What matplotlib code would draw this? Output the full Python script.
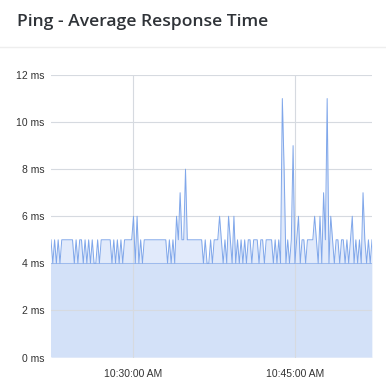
import matplotlib
matplotlib.use("Agg")
import matplotlib.pyplot as plt
import matplotlib.dates as mdates
from matplotlib.lines import Line2D
import numpy as np
import pandas as pd

# ---- data ----
title = "Ping - Average Response Time"
start_time = "2024-01-01 10:22:20"
interval = "10s"
response_ms = [
    5, 4, 5, 4, 5, 4, 5, 5, 5, 5,
    5, 5, 5, 4, 5, 4, 5, 5, 4, 5,
    4, 5, 4, 5, 4, 4, 5, 4, 5, 5,
    5, 5, 5, 5, 4, 5, 4, 5, 4, 5,
    4, 5, 5, 5, 5, 5, 6, 4, 6, 4,
    5, 4, 5, 5, 5, 5, 5, 5, 5, 5,
    5, 5, 5, 5, 5, 4, 5, 4, 5, 4,
    6, 5, 7, 5, 5, 8, 5, 5, 5, 5,
    5, 5, 5, 5, 5, 4, 5, 4, 4, 5,
    4, 5, 5, 5, 6, 5, 4, 5, 4, 6,
    5, 4, 6, 4, 5, 4, 5, 4, 5, 4,
    5, 5, 4, 5, 5, 5, 4, 5, 5, 4,
    5, 5, 5, 5, 4, 5, 4, 5, 4, 11,
    8, 4, 5, 4, 5, 9, 4, 5, 6, 4,
    5, 5, 4, 5, 5, 5, 5, 6, 5, 4,
    6, 4, 7, 5, 11, 4, 6, 5, 4, 5,
    5, 4, 5, 5, 4, 5, 4, 5, 6, 4,
    5, 4, 5, 4, 7, 5, 4, 5, 4, 5,
]
y_ticks = [0, 2, 4, 6, 8, 10, 12]
x_tick_times = ["2024-01-01 10:30:00", "2024-01-01 10:45:00"]

times = pd.date_range(start=start_time, periods=len(response_ms), freq=interval)
values = np.array(response_ms, dtype=float)
floor_vals = np.minimum(values, values.min())

fig = plt.figure(figsize=(3.86, 3.86), dpi=100)
fig.patch.set_facecolor("white")

fig.text(17 / 386, 1 - 22 / 386, title, fontsize=12.6, family="Open Sans",
         fontweight="semibold", color="#2f3338", ha="left", va="center")
fig.add_artist(Line2D([0, 1], [1 - 47 / 386, 1 - 47 / 386], color="#eeeeee",
                      linewidth=1.0, transform=fig.transFigure))

ax = fig.add_axes([51 / 386, 1 - 357.5 / 386, 321 / 386, 282.5 / 386])
ax.fill_between(times, 0, values, color="#e1eafb", linewidth=0, zorder=1)
ax.fill_between(times, 0, floor_vals, color="#d3e1f8", linewidth=0, zorder=1.1)
ax.plot(times, floor_vals, color="#9dbbee", linewidth=0.7, zorder=3)
ax.plot(times, values, color="#80a7ea", linewidth=0.7, zorder=3)

ax.set_xlim(times[0], times[-1])
ax.set_ylim(0, 12)
ax.set_yticks(y_ticks)
ax.set_yticklabels([f"{v} ms" for v in y_ticks])
ax.set_xticks(pd.to_datetime(x_tick_times))
ax.xaxis.set_major_formatter(mdates.DateFormatter("%I:%M:%S %p"))

for s in ax.spines.values():
    s.set_visible(False)
ax.set_axisbelow(False)
ax.grid(True, color="#d6dae0", linewidth=0.8, zorder=2)
ax.tick_params(length=0, labelsize=7.5, labelcolor="#333333")
ax.tick_params(axis="y", pad=4.5)
ax.tick_params(axis="x", pad=8)
for lab in ax.get_xticklabels() + ax.get_yticklabels():
    lab.set_family("Liberation Sans")
ax.set_facecolor("white")

fig.savefig("out.png", dpi=100, facecolor="white")
